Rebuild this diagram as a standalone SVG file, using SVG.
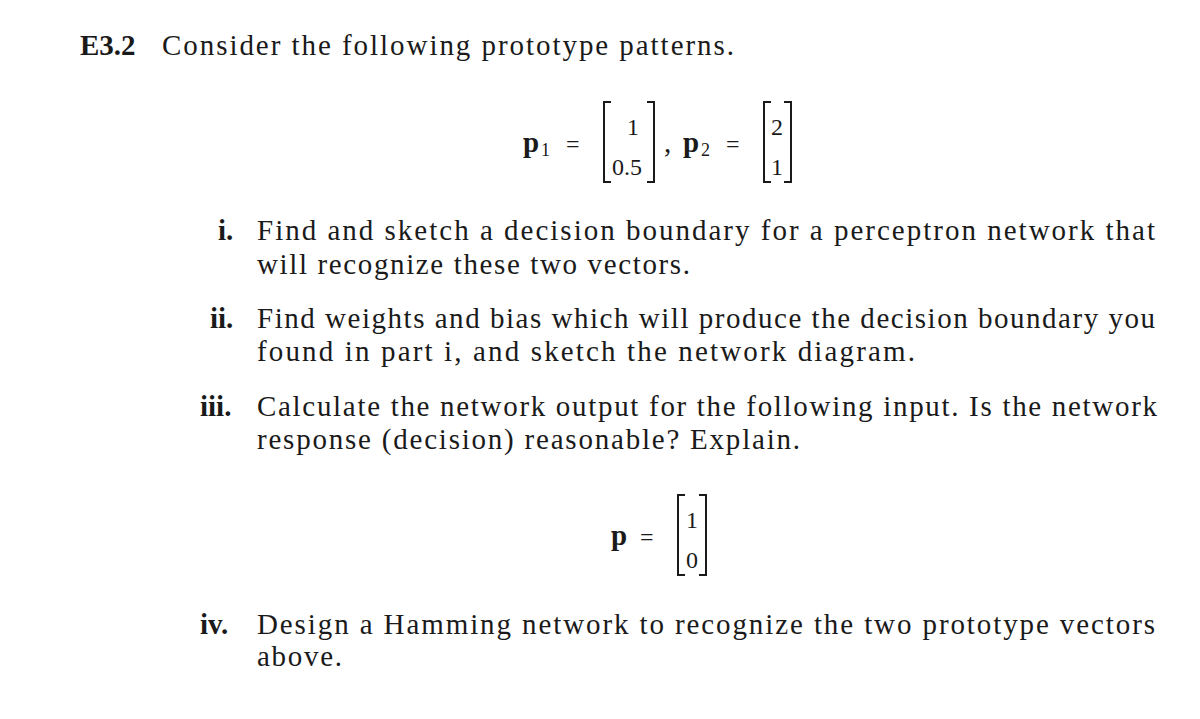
<svg xmlns="http://www.w3.org/2000/svg" width="1200" height="719" viewBox="0 0 1200 719">
<style>
text{font-family:"Liberation Serif","DejaVu Serif",serif;font-size:29px;fill:#1a1a1a}
.b{font-weight:bold}
.s{font-size:24px}
.sub{font-size:18px}
.br{fill:none;stroke:#1a1a1a;stroke-width:2}
</style>
<rect width="1200" height="719" fill="#fff"/>
<g id="title"><text x="80" y="55" class="b">E3.2</text><text x="162" y="55" textLength="572" lengthAdjust="spacing">Consider the following prototype patterns.</text></g>
<g id="eq1">
<text x="523" y="152" class="b">p</text><text x="541" y="156" class="sub">1</text>
<text x="566" y="152" class="s">=</text>
<path class="br" d="M611 102H604V182H611M647 102H654V182H647"/>
<text x="627" y="135" class="s">1</text><text x="612" y="175" class="s">0.5</text>
<text x="664" y="152">,</text>
<text x="683" y="152" class="b">p</text><text x="701" y="156" class="sub">2</text>
<text x="726" y="152" class="s">=</text>
<path class="br" d="M771 102H764V182H771M784 102H791V182H784"/>
<text x="771" y="135" class="s">2</text><text x="771" y="175" class="s">1</text>
</g>
<g id="i"><text x="218" y="240" class="b">i.</text>
<text x="257" y="240" textLength="898" lengthAdjust="spacing">Find and sketch a decision boundary for a perceptron network that</text>
<text x="257" y="274" textLength="433" lengthAdjust="spacing">will recognize these two vectors.</text></g>
<g id="ii"><text x="210" y="328" class="b">ii.</text>
<text x="257" y="328" textLength="898" lengthAdjust="spacing">Find weights and bias which will produce the decision boundary you</text>
<text x="257" y="361" textLength="658" lengthAdjust="spacing">found in part i, and sketch the network diagram.</text></g>
<g id="iii"><text x="200" y="416" class="b">iii.</text>
<text x="257" y="416" textLength="900" lengthAdjust="spacing">Calculate the network output for the following input. Is the network</text>
<text x="257" y="449" textLength="543" lengthAdjust="spacing">response (decision) reasonable? Explain.</text></g>
<g id="eq2">
<text x="611" y="545" class="b">p</text>
<text x="640" y="545" class="s">=</text>
<path class="br" d="M685 495H678V575H685M699 495H706V575H699"/>
<text x="686" y="528" class="s">1</text><text x="686" y="568" class="s">0</text>
</g>
<g id="iv"><text x="200" y="634" class="b">iv.</text>
<text x="257" y="634" textLength="898" lengthAdjust="spacing">Design a Hamming network to recognize the two prototype vectors</text>
<text x="257" y="666" textLength="85" lengthAdjust="spacing">above.</text></g>
</svg>
